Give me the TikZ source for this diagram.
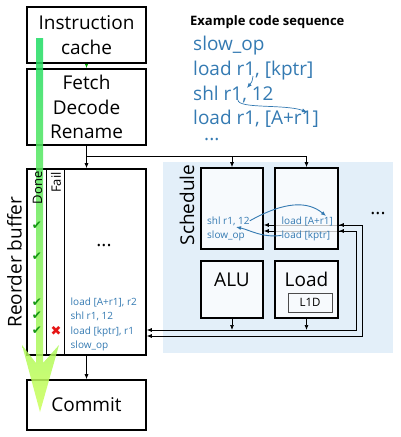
\documentclass[tikz,border=0pt]{standalone}
\usepackage{fontspec}
\setmainfont{Open Sans}
\newfontfamily\symfont{DejaVu Sans}
\usetikzlibrary{arrows.meta,positioning}

\definecolor{codeblue}{RGB}{52,122,178}
\definecolor{schedbg}{RGB}{227,239,249}
\definecolor{donegreen}{RGB}{20,150,20}
\definecolor{failred}{RGB}{230,20,20}
\definecolor{bartop}{RGB}{30,220,100}
\definecolor{barbottom}{RGB}{205,255,90}

\pgfdeclarelayer{back}
\pgfdeclarelayer{wires}
\pgfsetlayers{back,wires,main}

\tikzset{
  unit/.style={draw, line width=1.6pt, fill=white, inner sep=0pt, align=center,
    font=\fontsize{19}{24.5}\selectfont},
  semi/.style={fill opacity=0.75, text opacity=1},
  big/.style={font=\fontsize{19}{24.5}\selectfont, inner sep=0pt},
  code/.style={text=codeblue, font=\fontsize{10}{12}\selectfont, inner sep=0pt, anchor=base west},
  bigcode/.style={text=codeblue, font=\fontsize{19}{24.5}\selectfont, inner sep=0pt, anchor=base west},
  wire/.style={line width=0.7pt, -{Latex[length=5pt,width=4pt]}},
  dep/.style={codeblue, line width=0.9pt, -{Latex[length=5pt,width=4pt]}},
  donemark/.style={text=donegreen, font=\symfont\fontsize{12}{12}\selectfont, inner sep=0pt},
  failmark/.style={text=failred, font=\symfont\fontsize{13}{13}\selectfont, inner sep=0pt},
  colhead/.style={font=\fontsize{13}{13}\selectfont, inner sep=0pt, rotate=90}
}

\begin{document}
\begin{tikzpicture}[x=1pt,y=-1pt]
\useasboundingbox (0,0) rectangle (400,437);

% schedule area
\begin{pgfonlayer}{back}
\fill[schedbg] (163,162) rectangle (393,353);
\end{pgfonlayer}
\node[big, rotate=90] (schedlabel) at (187,205) {Schedule};

% front end and reorder buffer
\node[unit, minimum width=119pt, minimum height=56pt] (icache) at (86.5,35) {Instruction\\cache};
\node[unit, minimum width=119pt, minimum height=76pt] (fetch) at (86.5,107) {Fetch\\Decode\\Rename};
\node[unit, minimum width=119pt, minimum height=186pt] (rob) at (86.5,262) {};
\node[unit, minimum width=119pt, minimum height=50pt] (commit) at (86.5,405) {Commit};
\node[big, rotate=90] (roblabel) at (14.5,262) {Reorder buffer};

\draw[line width=0.8pt] (46,169) -- (46,355);
\draw[line width=0.8pt] (64,169) -- (64,355);

% schedulers and units
\node[unit, semi, minimum width=62pt, minimum height=81pt] (schedA) at (232,208.5) {};
\node[unit, semi, minimum width=63pt, minimum height=81pt] (schedL) at (306.5,208.5) {};
\node[unit, semi, minimum width=62pt, minimum height=57pt] (alu) at (232,289.5) {};
\node[unit, semi, minimum width=63pt, minimum height=57pt] (load) at (306.5,289.5) {};
\node[big, anchor=base] (alutext) at (232,286) {ALU};
\node[big, anchor=base] (loadtext) at (306.5,286) {Load};
\node[draw=black!70, line width=0.9pt, minimum width=44pt, minimum height=19pt, inner sep=0pt,
  font=\fontsize{11.5}{12}\selectfont] (lonedee) at (310,302.5) {L1D};
\node[big] (moreunits) at (378,214) {...};

% wires
\coordinate (split) at (86.5,156);
\coordinate (busA) at (356,330);
\coordinate (busB) at (362,336);
\coordinate (retA) at (356,231);
\coordinate (retB) at (362,225);
\begin{pgfonlayer}{wires}
\draw[wire, green!65!black] (icache) -- (fetch);
\draw[wire] (fetch) -- (rob);
\draw[wire] (split) -| (schedA.north);
\draw[wire] (split) -| (schedL.north);
\draw[wire] (alu.south) -- (alu.south |- busA);
\draw[wire] (load.south) -- (load.south |- busA);
\draw[wire] (retA) -- (busA) -- (rob.east |- busA);
\draw[wire] (retB) -- (busB) -- (rob.east |- busB);
\draw[wire] (retA) -- (schedA.east |- retA);
\draw[wire] (retB) -- (schedA.east |- retB);
\draw[wire] (retA) -- (schedL.east |- retA);
\draw[wire] (retB) -- (schedL.east |- retB);
\draw[wire] (rob) -- (commit);
\end{pgfonlayer}

% retire bar
\shade[top color=bartop, bottom color=barbottom, fill opacity=0.85]
  (36,38) -- (43,38) -- (43,363) -- (59,345) -- (40,412) -- (22,345) -- (36,363) -- cycle;

% reorder buffer entries
\node[colhead] (donehead) at (37.5,188) {Done};
\node[colhead] (failhead) at (56,182.5) {Fail};
\foreach \y in {226,257,303,316,331}
  \node[donemark] (done\y) at (37,\y) {✔};
\node[failmark] (fail331) at (56,331) {✖};
\node[big] (robdots) at (104,246) {...};
\node[code] (rob1) at (70.5,305) {load [A+r1], r2};
\node[code] (rob2) at (70.5,319.5) {shl r1, 12};
\node[code] (rob3) at (70.5,334) {load [kptr], r1};
\node[code] (rob4) at (70.5,348.5) {slow\_op};

% scheduler entries
\node[code] (shlS) at (207,224) {shl r1, 12};
\node[code] (slowS) at (207,238) {slow\_op};
\node[code] (aplusS) at (281.5,224) {load [A+r1]};
\node[code] (kptrS) at (281.5,238) {load [kptr]};
\coordinate (aplusin) at (326,216);
\coordinate (slowin) at (236,227);
\draw[dep] (shlS.east) .. controls (285,201) and (308,201) .. (aplusin);
\draw[dep] (kptrS.west) .. controls (262,238) and (250,230) .. (slowin);

% example code
\node[anchor=base west, inner sep=0pt, font=\bfseries\fontsize{13}{15}\selectfont] (codehead) at (190,25) {Example code sequence};
\node[bigcode] (code1) at (193,50) {slow\_op};
\node[bigcode] (code2) at (193,75) {load r1, [kptr]};
\node[bigcode] (code3) at (193,100) {shl r1, 12};
\node[bigcode] (code4) at (193,124.5) {load r1, [A+r1]};
\node[bigcode] (codedots) at (204,140) {...};
\coordinate (kptrout) at (253,76);
\coordinate (shlin) at (247,88);
\coordinate (shlout) at (238,100);
\coordinate (aplusr) at (307,112);
\draw[dep, line width=0.7pt] (kptrout) .. controls (252,82) .. (shlin);
\draw[dep, line width=0.7pt] (shlout) .. controls (238,109) and (285,104) .. (aplusr);
\end{tikzpicture}
\end{document}
